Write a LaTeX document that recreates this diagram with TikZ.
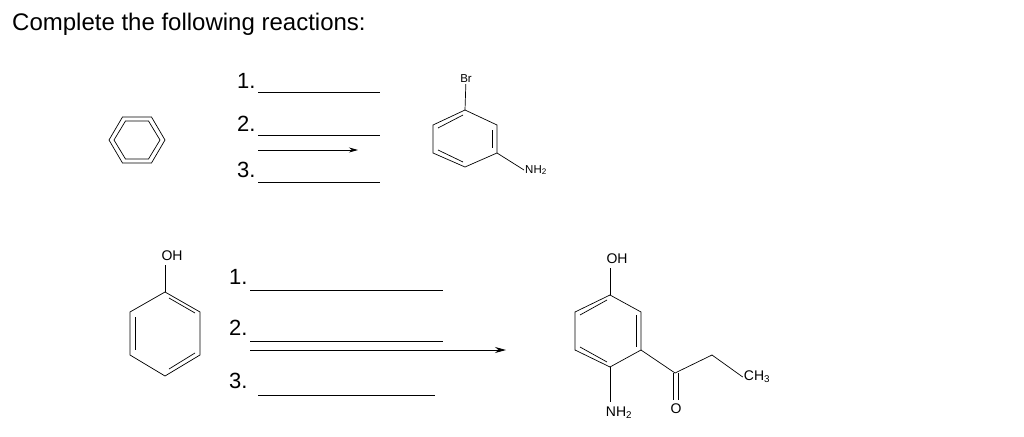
\documentclass[tikz,border=0pt]{standalone}
\usepackage{fontspec}
\setmainfont{Liberation Sans}
\usetikzlibrary{arrows.meta}
\begin{document}
\begin{tikzpicture}[x=1pt,y=-1pt,
  bond/.style={line width=0.7pt},
  blank/.style={line width=0.8pt},
  lbl/.style={font=\fontsize{22}{24}\selectfont,anchor=west,inner sep=0pt},
  atom/.style={font=\fontsize{14}{15}\selectfont,inner sep=1pt},
  satom/.style={font=\fontsize{11.5}{12}\selectfont,inner sep=1pt}]
\useasboundingbox (0,0) rectangle (1024,436);
\node[anchor=west,font=\fontsize{24}{26}\selectfont,inner sep=0pt] (title) at (12,24) {Complete the following reactions:};
% top benzene (flat top)
\draw[bond] (109,140)--(122.5,117)--(151.5,117)--(165,140)--(151.5,163)--(122.5,163)--cycle;
\draw[bond] (114,140)--(125.5,121)--(148.5,121)--(160,140)--(148.5,159)--(125.5,159)--cycle;
% top reagents
\node[lbl] (t1) at (237,81) {1.};
\node[lbl] (t2) at (237,124) {2.};
\node[lbl] (t3) at (237,170) {3.};
\coordinate (a1) at (258,92); \coordinate (b1) at (380,92);
\coordinate (a2) at (258,135); \coordinate (b2) at (380,135);
\coordinate (a3) at (258,182); \coordinate (b3) at (380,182);
\coordinate (as) at (258,150); \coordinate (ae) at (358,150);
\draw[blank] (a1)--(b1); \draw[blank] (a2)--(b2); \draw[blank] (a3)--(b3);
\draw[blank,-{Stealth[length=9pt,width=5pt]}] (as)--(ae);
% bromoaniline
\coordinate (p1) at (465,110); \coordinate (p2) at (497,125); \coordinate (p3) at (497,153);
\coordinate (p4) at (465,167); \coordinate (p5) at (433,153); \coordinate (p6) at (433,125);
\draw[bond] (p1)--(p2)--(p3)--(p4)--(p5)--(p6)--cycle;
\draw[bond] (463,115)--(438,128);
\draw[bond] (492,130)--(492,148);
\draw[bond] (438,150)--(463,162);
\node[satom] (br) at (466,79) {Br};
\draw[bond] (p1)--(br);
\node[satom,anchor=west] (nh) at (524,170) {NH\textsubscript{2}};
\draw[bond] (p3)--(nh.west);
% phenol
\coordinate (q1) at (165,292); \coordinate (q2) at (200,312); \coordinate (q3) at (200,355);
\coordinate (q4) at (165,376); \coordinate (q5) at (130,355); \coordinate (q6) at (130,312);
\draw[bond] (q1)--(q2)--(q3)--(q4)--(q5)--(q6)--cycle;
\draw[bond] (169,298)--(195,313);
\draw[bond] (195,353)--(169,369);
\draw[bond] (135,317)--(135,350);
\node[atom] (oh1) at (172,256) {OH};
\draw[bond] (q1)--(165,265);
% bottom reagents
\node[lbl] (u1) at (229,277) {1.};
\node[lbl] (u2) at (229,328) {2.};
\node[lbl] (u3) at (229,381) {3.};
\coordinate (c1) at (250,290); \coordinate (d1) at (443,290);
\coordinate (c2) at (250,341); \coordinate (d2) at (443,341);
\coordinate (c3) at (258,395); \coordinate (d3) at (435,395);
\coordinate (cs) at (250,350); \coordinate (ce) at (506,350);
\draw[blank] (c1)--(d1); \draw[blank] (c2)--(d2); \draw[blank] (c3)--(d3);
\draw[blank,-{Stealth[length=11pt,width=6pt]}] (cs)--(ce);
% product
\coordinate (r1) at (610,295); \coordinate (r2) at (641,312); \coordinate (r3) at (641,350);
\coordinate (r4) at (610,367); \coordinate (r5) at (575,350); \coordinate (r6) at (575,312);
\draw[bond] (r1)--(r2)--(r3)--(r4)--(r5)--(r6)--cycle;
\draw[bond] (607,300)--(580,315);
\draw[bond] (636,315)--(636,347);
\draw[bond] (580,347)--(607,362);
\node[atom] (oh2) at (617,259) {OH};
\draw[bond] (r1)--(610,268);
\node[atom] (nh2) at (619,413) {NH\textsubscript{2}};
\draw[bond] (r4)--(610,402);
\coordinate (k) at (675,373); \coordinate (m) at (712,355);
\draw[bond] (r3)--(k)--(m);
\node[atom] (ch3) at (757,377) {CH\textsubscript{3}};
\draw[bond] (m)--(ch3.west);
\node[atom] (o) at (676,409) {O};
\draw[bond] (673,373)--(673,400);
\draw[bond] (678,373)--(678,400);
\end{tikzpicture}
\end{document}
